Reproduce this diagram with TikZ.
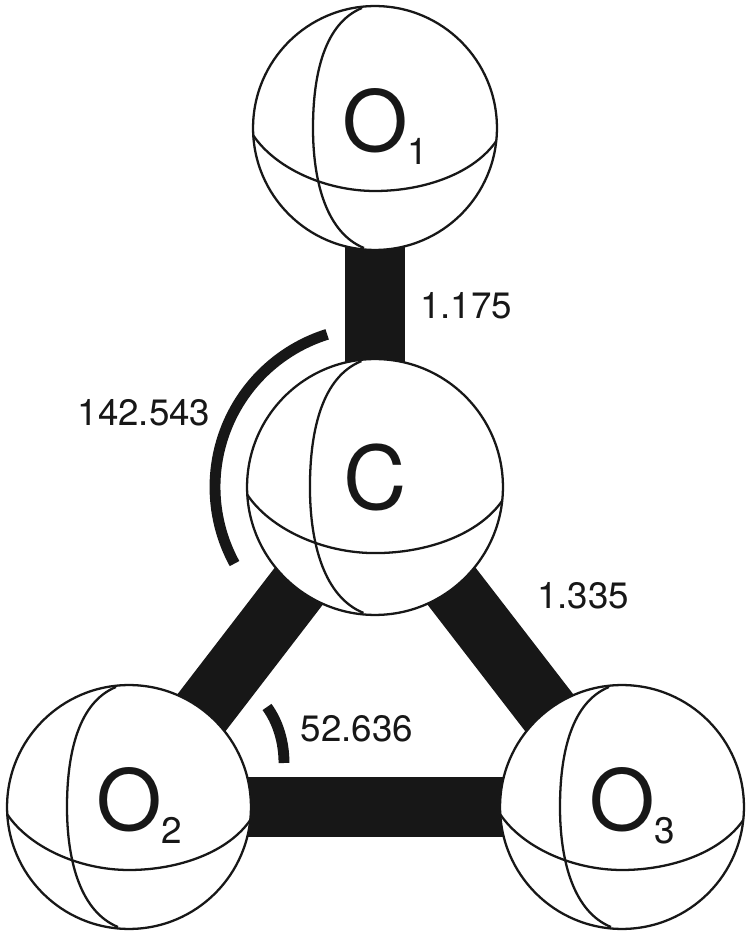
\documentclass[tikz,border=0pt]{standalone}
\usepackage{fontspec}
\setmainfont{TeX Gyre Heros}
\usetikzlibrary{backgrounds}

\definecolor{ink}{HTML}{171717}
\newcommand{\atomsub}[1]{\rlap{\smash{\raisebox{-.26cm}{\fontsize{21}{22}\selectfont #1}}}}

\tikzset{
  atom/.style={circle,draw=ink,fill=white,line width=1.3pt,inner sep=0pt,
    minimum size=#1*.04cm,
    path picture={
      \draw[ink,line width=1.3pt,shift={(path picture bounding box.center)},x=#1/122*.02cm,y=#1/122*.02cm]
        (-13,120) .. controls (-50,105) and (-62,55) .. (-62,0)
        .. controls (-62,-55) and (-48,-105) .. (-11,-120);
      \draw[ink,line width=1.3pt,shift={(path picture bounding box.center)},x=#1/122*.02cm,y=#1/122*.02cm]
        (-122,-7) .. controls (-100,-40) and (-50,-63) .. (0,-63)
        .. controls (50,-63) and (100,-45) .. (122,-12);
    }},
  atomname/.style={text=ink,font=\fontsize{48}{50}\selectfont,inner sep=0pt,yshift=.15cm},
  bond/.style={ink,line width=34.5pt},
  angle mark/.style={ink,line width=6.2pt},
  value/.style={text=ink,font=\fontsize{20.9}{23}\selectfont,inner sep=0pt}
}

\begin{document}
\begin{tikzpicture}[x=.02cm,y=.02cm]
  \useasboundingbox (0,0) rectangle (750,938);

  % atoms
  \node[atom=122,label={[atomname]center:O\atomsub{1}}] (O1) at (375,810) {};
  \node[atom=128,label={[atomname,yshift=.04cm,font=\fontsize{50}{52}\selectfont]center:C}] (C) at (375,451) {};
  \node[atom=122,label={[atomname]center:O\atomsub{2}}] (O2) at (129,131) {};
  \node[atom=122,label={[atomname]center:O\atomsub{3}}] (O3) at (622,131) {};

  % bonds go behind the atoms
  \begin{pgfonlayer}{background}
    \draw[bond] (O1.center) -- (C.center);
    \draw[bond] (C.center) -- (O2.center);
    \draw[bond] (C.center) -- (O3.center);
    \draw[bond] (O2.center) -- (O3.center);
  \end{pgfonlayer}

  % angle marks
  \draw[angle mark] (C.center) ++(107.4:160) arc[start angle=107.4,end angle=208.6,radius=160];
  \coordinate (m1) at (267,231);
  \coordinate (m2) at (284,175);
  \draw[angle mark] (m1) .. controls (278,216) and (284,196) .. (m2);

  % values
  \node[value] (v1) at (466,632) {1.175};
  \node[value] (v2) at (144,525) {142.543};
  \node[value] (v3) at (583,342) {1.335};
  \node[value] (v4) at (357,209) {52.636};
\end{tikzpicture}
\end{document}
